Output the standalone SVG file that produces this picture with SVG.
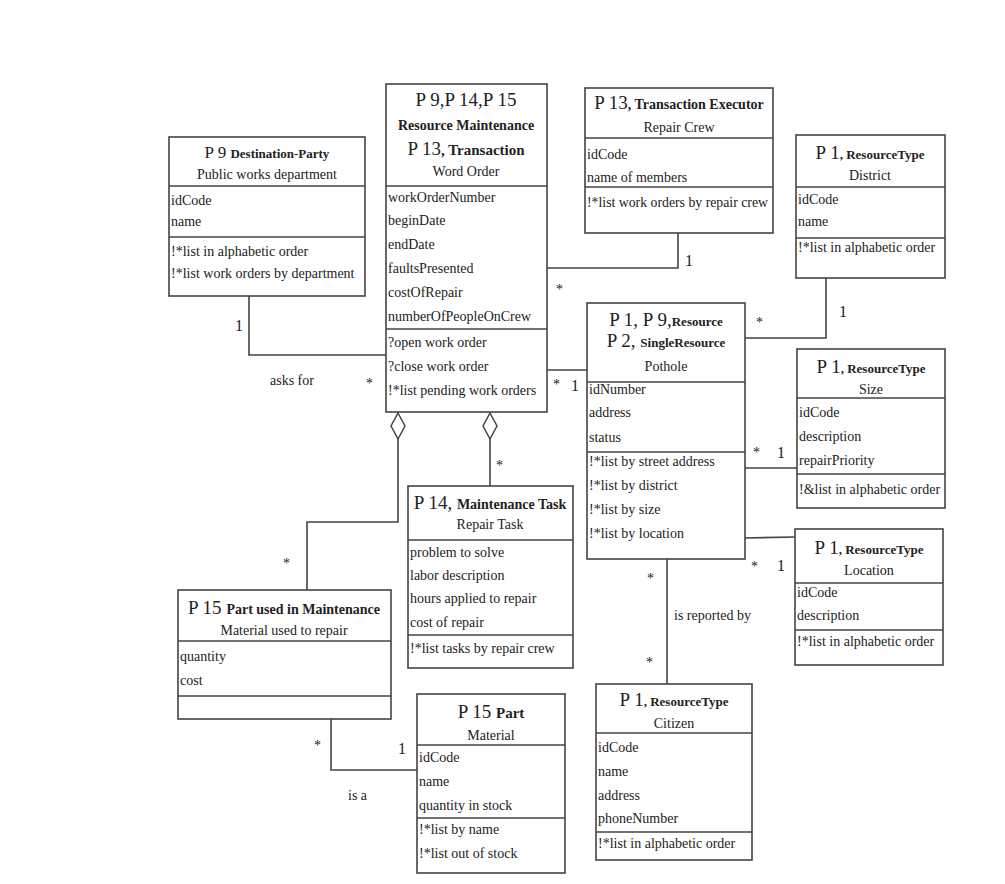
<svg xmlns="http://www.w3.org/2000/svg" width="1005" height="884" viewBox="0 0 1005 884">
<style>
text{font-family:"Liberation Serif","Times New Roman",serif;fill:#222}
.t{font-size:14px}
.c{text-anchor:middle}
.b{font-weight:bold}
.box{fill:#fff;stroke:#444;stroke-width:1.6}
.div{stroke:#444;stroke-width:1.6}
.con{fill:none;stroke:#444;stroke-width:1.6}
.m{font-size:14px}
.one{font-size:16px}
.dia{fill:#fff;stroke:#444;stroke-width:1.5}
</style>
<rect width="1005" height="884" fill="#fff"/>

<g id="connectors">
  <polyline class="con" points="249,296 249,355 386,355"/>
  <text class="one" x="235" y="331">1</text>
  <text class="t" x="270" y="385">asks for</text>
  <text class="m" x="366" y="388">*</text>
  <polyline class="con" points="547,268 678,268 678,233"/>
  <text class="one" x="685" y="266">1</text>
  <text class="m" x="556" y="294">*</text>
  <line class="con" x1="547" y1="370" x2="587" y2="370"/>
  <text class="m" x="553" y="389">*</text>
  <text class="one" x="571" y="391">1</text>
  <polyline class="con" points="745,338 826,338 826,278"/>
  <text class="m" x="756" y="327">*</text>
  <text class="one" x="839" y="317">1</text>
  <line class="con" x1="745" y1="468" x2="797" y2="468"/>
  <text class="m" x="753" y="457">*</text>
  <text class="one" x="777" y="458">1</text>
  <line class="con" x1="745" y1="538" x2="795" y2="537"/>
  <text class="m" x="751" y="571">*</text>
  <text class="one" x="777" y="571">1</text>
  <line class="con" x1="667" y1="559" x2="667" y2="684"/>
  <text class="m" x="647" y="583">*</text>
  <text class="m" x="646" y="667">*</text>
  <text class="t" x="674" y="620">is reported by</text>
  <path class="dia" d="M398,413 L405,426 L398,439 L391,426 Z"/>
  <polyline class="con" points="398,439 398,522 307,522 307,590"/>
  <text class="m" x="283" y="568">*</text>
  <path class="dia" d="M490,413 L497,426 L490,439 L483,426 Z"/>
  <line class="con" x1="490" y1="439" x2="490" y2="486"/>
  <text class="m" x="496" y="470">*</text>
  <polyline class="con" points="331,719 331,770 417,770"/>
  <text class="m" x="314" y="750">*</text>
  <text class="one" x="398" y="754">1</text>
  <text class="t" x="348" y="800">is a</text>
</g>

<g id="destination-party">
  <rect class="box" x="169" y="137" width="196" height="159"/>
  <line class="div" x1="169" y1="186" x2="365" y2="186"/>
  <line class="div" x1="169" y1="237" x2="365" y2="237"/>
  <text class="t c" x="267" y="158"><tspan font-size="17">P 9 </tspan><tspan class="b" font-size="13">Destination-Party</tspan></text>
  <text class="t c" x="267" y="179">Public works department</text>
  <text class="t" x="171" y="205">idCode</text>
  <text class="t" x="171" y="226">name</text>
  <text class="t" x="171" y="256">!*list in alphabetic order</text>
  <text class="t" x="171" y="278">!*list work orders by department</text>
</g>

<g id="work-order">
  <rect class="box" x="386" y="84" width="161" height="328"/>
  <line class="div" x1="386" y1="186" x2="547" y2="186"/>
  <line class="div" x1="386" y1="329" x2="547" y2="329"/>
  <text class="c" x="466" y="106" font-size="19">P 9,P 14,P 15</text>
  <text class="t c b" x="466" y="130" font-size="13">Resource Maintenance</text>
  <text class="c" x="466" y="155"><tspan font-size="19">P 13</tspan><tspan class="b" font-size="15">, Transaction</tspan></text>
  <text class="t c" x="466" y="176">Word Order</text>
  <text class="t" x="388" y="202">workOrderNumber</text>
  <text class="t" x="388" y="225">beginDate</text>
  <text class="t" x="388" y="249">endDate</text>
  <text class="t" x="388" y="273">faultsPresented</text>
  <text class="t" x="388" y="297">costOfRepair</text>
  <text class="t" x="388" y="321">numberOfPeopleOnCrew</text>
  <text class="t" x="388" y="347">?open work order</text>
  <text class="t" x="388" y="371">?close work order</text>
  <text class="t" x="388" y="395">!*list pending work orders</text>
</g>

<g id="repair-crew">
  <rect class="box" x="585" y="88" width="188" height="145"/>
  <line class="div" x1="585" y1="138" x2="773" y2="138"/>
  <line class="div" x1="585" y1="187" x2="773" y2="187"/>
  <text class="c" x="679" y="109"><tspan font-size="19">P 13</tspan><tspan class="b" font-size="14">, Transaction Executor</tspan></text>
  <text class="t c" x="679" y="132">Repair Crew</text>
  <text class="t" x="587" y="159">idCode</text>
  <text class="t" x="587" y="182">name of members</text>
  <text class="t" x="587" y="207" textLength="181" lengthAdjust="spacingAndGlyphs">!*list work orders by repair crew</text>
</g>

<g id="district">
  <rect class="box" x="796" y="135" width="149" height="143"/>
  <line class="div" x1="796" y1="187" x2="945" y2="187"/>
  <line class="div" x1="796" y1="238" x2="945" y2="238"/>
  <text class="c" x="870" y="159"><tspan font-size="19">P 1</tspan><tspan class="b" font-size="13">, ResourceType</tspan></text>
  <text class="t c" x="870" y="180">District</text>
  <text class="t" x="798" y="204">idCode</text>
  <text class="t" x="798" y="226">name</text>
  <text class="t" x="798" y="252">!*list in alphabetic order</text>
</g>

<g id="pothole">
  <rect class="box" x="587" y="303" width="158" height="256"/>
  <line class="div" x1="587" y1="382" x2="745" y2="382"/>
  <line class="div" x1="587" y1="452" x2="745" y2="452"/>
  <text class="c" x="666" y="326"><tspan font-size="19">P 1, P 9,</tspan><tspan class="b" font-size="13">Resource</tspan></text>
  <text class="c" x="666" y="347"><tspan font-size="19">P 2, </tspan><tspan class="b" font-size="13">SingleResource</tspan></text>
  <text class="t c" x="666" y="371">Pothole</text>
  <text class="t" x="589" y="394">idNumber</text>
  <text class="t" x="589" y="417">address</text>
  <text class="t" x="589" y="442">status</text>
  <text class="t" x="589" y="466">!*list by street address</text>
  <text class="t" x="589" y="490">!*list by district</text>
  <text class="t" x="589" y="514">!*list by size</text>
  <text class="t" x="589" y="538">!*list by location</text>
</g>

<g id="size">
  <rect class="box" x="797" y="349" width="148" height="159"/>
  <line class="div" x1="797" y1="398" x2="945" y2="398"/>
  <line class="div" x1="797" y1="474" x2="945" y2="474"/>
  <text class="c" x="871" y="373"><tspan font-size="19">P 1</tspan><tspan class="b" font-size="13">, ResourceType</tspan></text>
  <text class="t c" x="871" y="394">Size</text>
  <text class="t" x="799" y="417">idCode</text>
  <text class="t" x="799" y="441">description</text>
  <text class="t" x="799" y="465">repairPriority</text>
  <text class="t" x="799" y="494">!&amp;list in alphabetic order</text>
</g>

<g id="location">
  <rect class="box" x="795" y="529" width="148" height="136"/>
  <line class="div" x1="795" y1="583" x2="943" y2="583"/>
  <line class="div" x1="795" y1="630" x2="943" y2="630"/>
  <text class="c" x="869" y="554"><tspan font-size="19">P 1</tspan><tspan class="b" font-size="13">, ResourceType</tspan></text>
  <text class="t c" x="869" y="575">Location</text>
  <text class="t" x="797" y="597">idCode</text>
  <text class="t" x="797" y="620">description</text>
  <text class="t" x="797" y="646">!*list in alphabetic order</text>
</g>

<g id="repair-task">
  <rect class="box" x="408" y="486" width="165" height="182"/>
  <line class="div" x1="408" y1="540" x2="573" y2="540"/>
  <line class="div" x1="408" y1="635" x2="573" y2="635"/>
  <text class="c" x="490" y="509"><tspan font-size="19">P 14, </tspan><tspan class="b" font-size="14">Maintenance Task</tspan></text>
  <text class="t c" x="490" y="529">Repair Task</text>
  <text class="t" x="410" y="557">problem to solve</text>
  <text class="t" x="410" y="580">labor description</text>
  <text class="t" x="410" y="603">hours applied to repair</text>
  <text class="t" x="410" y="627">cost of repair</text>
  <text class="t" x="410" y="653">!*list tasks by repair crew</text>
</g>

<g id="part-used">
  <rect class="box" x="178" y="590" width="213" height="129"/>
  <line class="div" x1="178" y1="641" x2="391" y2="641"/>
  <line class="div" x1="178" y1="696" x2="391" y2="696"/>
  <text class="c" x="284" y="614"><tspan font-size="19">P 15 </tspan><tspan class="b" font-size="14">Part used in Maintenance</tspan></text>
  <text class="t c" x="284" y="635">Material used to repair</text>
  <text class="t" x="180" y="661">quantity</text>
  <text class="t" x="180" y="685">cost</text>
</g>

<g id="material">
  <rect class="box" x="417" y="694" width="148" height="179"/>
  <line class="div" x1="417" y1="745" x2="565" y2="745"/>
  <line class="div" x1="417" y1="818" x2="565" y2="818"/>
  <text class="c" x="491" y="718"><tspan font-size="19">P 15  </tspan><tspan class="b" font-size="15">Part</tspan></text>
  <text class="t c" x="491" y="740">Material</text>
  <text class="t" x="419" y="762">idCode</text>
  <text class="t" x="419" y="786">name</text>
  <text class="t" x="419" y="810">quantity in stock</text>
  <text class="t" x="419" y="834">!*list by name</text>
  <text class="t" x="419" y="858">!*list out of stock</text>
</g>

<g id="citizen">
  <rect class="box" x="596" y="684" width="156" height="176"/>
  <line class="div" x1="596" y1="733" x2="752" y2="733"/>
  <line class="div" x1="596" y1="832" x2="752" y2="832"/>
  <text class="c" x="674" y="706"><tspan font-size="19">P 1</tspan><tspan class="b" font-size="13">, ResourceType</tspan></text>
  <text class="t c" x="674" y="728">Citizen</text>
  <text class="t" x="598" y="752">idCode</text>
  <text class="t" x="598" y="776">name</text>
  <text class="t" x="598" y="800">address</text>
  <text class="t" x="598" y="823">phoneNumber</text>
  <text class="t" x="598" y="848">!*list in alphabetic order</text>
</g>
</svg>
